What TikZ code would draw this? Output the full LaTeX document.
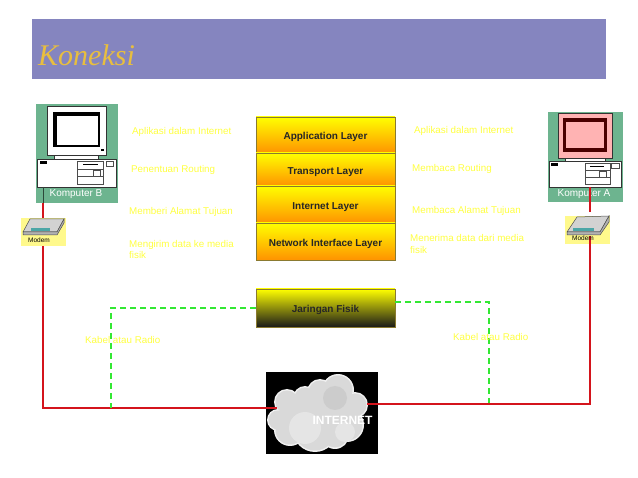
\documentclass[tikz,border=0pt]{standalone}
\usepackage{fontspec}
\setmainfont{Liberation Sans}
\newfontfamily\titlefont{Liberation Serif}
\usepackage{xcolor}
\usetikzlibrary{positioning}

\definecolor{bandcolor}{HTML}{8585BF}
\definecolor{titlecolor}{HTML}{E8BE3F}
\definecolor{pccolor}{HTML}{6DB48F}
\definecolor{notecolor}{HTML}{FFFF40}
\definecolor{edgecolor}{HTML}{8A7A30}
\definecolor{cablecolor}{HTML}{D4141C}
\definecolor{dashcolor}{HTML}{33E833}
\definecolor{pinkcolor}{HTML}{FFB3B3}
\definecolor{darkred}{HTML}{4A0000}

\begin{document}
\begin{tikzpicture}
        [x=1pt,y=-1pt,
        layer/.style={rectangle,draw=edgecolor,semithick,minimum width=139pt,inner sep=0pt,top color=yellow,bottom color=orange!85!yellow,font=\fontsize{10}{12}\selectfont\bfseries,text=black!85,text centered,text height=10pt,text depth=0pt},
        physical/.style={layer,top color=yellow,bottom color=black!90},
        note/.style={anchor=west,inner sep=0pt,align=left,text=notecolor,font=\fontsize{9.8}{11.5}\selectfont},
        pclabel/.style={inner sep=0pt,text=white,font=\fontsize{10}{12}\selectfont},
        pcbox/.style={rectangle,fill=pccolor,inner sep=0pt},
        modembox/.style={rectangle,fill=yellow!45,inner sep=0pt,minimum width=45pt,minimum height=28pt},
        modemlabel/.style={inner sep=0pt,font=\fontsize{6.5}{8}\selectfont},
        part/.style={draw=black!80,fill=white,line width=0.7pt},
        cable/.style={-,draw=cablecolor,line width=2.9pt},
        link/.style={-,draw=dashcolor,line width=1.5pt,dash pattern=on 6pt off 4pt}]

\useasboundingbox (0,0) rectangle (638,478);

% header
\node[rectangle,fill=bandcolor,minimum width=574pt,minimum height=60pt,inner sep=0pt] at (319,49) (band) {};
\node[anchor=west,inner sep=0pt,text=titlecolor,font=\titlefont\itshape\fontsize{30}{34}\selectfont] at (38,55) (title) {Koneksi};

% computer B
\node[pcbox,minimum width=82pt,minimum height=99pt] at (77,153.5) (pc_b) {};
\draw[part] (47,106) rectangle (106,155);
\draw[fill=black,draw=none] (53,112) rectangle (100,147);
\draw[fill=white,draw=none] (57,116) rectangle (98,145);
\fill[black] (101,149) rectangle (104,151);
\draw[part] (54,155) rectangle (98,159);
\node[part,rectangle,minimum width=79pt,minimum height=28pt,inner sep=0pt] at (76.5,173) (case_b) {};
\fill[black] (40,161) rectangle (47,164);
\draw[black!70,fill=white,line width=0.4pt] (77,161) rectangle (103,184) (77,169) -- (103,169) (77,176) -- (103,176) (93,170) rectangle (100,176) (106,161) rectangle (113,166);
\draw[black,line width=1pt] (83,165) -- (98,165);
\node[pclabel] at (76,194.5) (label_b) {Komputer B};

% computer A
\node[pcbox,minimum width=75pt,minimum height=90pt] at (585.5,157) (pc_a) {};
\draw[part,fill=pinkcolor] (558,113) rectangle (612,158);
\draw[fill=darkred,draw=none] (563,118) rectangle (607,152);
\draw[fill=pinkcolor,draw=none] (566,122) rectangle (604,148);
\draw[part] (565,158) rectangle (605,161);
\node[part,rectangle,minimum width=72pt,minimum height=26pt,inner sep=0pt] at (585,174) (case_a) {};
\fill[black] (551,163) rectangle (558,166);
\draw[black!70,fill=white,line width=0.4pt] (585,163) rectangle (610,184) (585,170) -- (610,170) (585,177) -- (610,177) (599,171) rectangle (606,177) (611,163) rectangle (619,168);
\draw[black,line width=1pt] (590,167) -- (604,167);
\node[pclabel] at (584,194.5) (label_a) {Komputer A};

% cloud
\node[rectangle,fill=black,minimum width=112pt,minimum height=82pt,inner sep=0pt] at (322,413) (inet) {};
\foreach \cx/\cy/\rad in {278/420/11,287/402/13,305/398/12,320/392/13,338/390/16,355/405/13,347/425/17,315/430/22,290/430/16,335/435/14,300/415/20,330/410/25}
    \fill[gray!12] (\cx,\cy) circle (\rad pt);
\foreach \cx/\cy/\rad in {278/420/9.5,287/402/11.5,305/398/10.5,320/392/11.5,338/390/14.5,355/405/11.5,347/425/15.5,315/430/20.5,290/430/14.5,335/435/12.5,300/415/18.5,330/410/23.5}
    \fill[gray!30] (\cx,\cy) circle (\rad pt);
\fill[gray!20] (305,428) circle (16pt) (345,432) circle (10pt);
\fill[gray!40] (335,398) circle (12pt);
\node[inner sep=0pt,text=white,font=\fontsize{12}{14}\selectfont\bfseries] at (342.5,420) (inet_label) {INTERNET};

% line ends
\coordinate (out_b) at (43,187);
\coordinate (box_b) at (43,203);
\coordinate (in_b) at (277,408);
\coordinate (out_a) at (590,187);
\coordinate (stop_a) at (590,212);
\coordinate (low_a) at (590,236);
\coordinate (in_a) at (367,404);
\coordinate (drop_b) at (111,408);
\coordinate (side_a) at (395,302);
\coordinate (drop_a) at (489,403);

% layers
\node[layer,minimum height=36pt] at (325.5,135) (application) {Application Layer};
\node[layer,minimum height=33pt] at (325.5,169.5) (transport) {Transport Layer};
\node[layer,minimum height=37pt] at (325.5,204.5) (internet) {Internet Layer};
\node[layer,minimum height=37pt] at (325.5,241.5) (network) {Network Interface Layer};
\node[physical,minimum height=38pt] at (325.5,308) (fisik) {Jaringan Fisik};

% notes
\node[note] at (132,131.5) (app_b) {Aplikasi dalam Internet};
\node[note] at (131,169.5) (route_b) {Penentuan Routing};
\node[note] at (129,211.5) (addr_b) {Memberi Alamat Tujuan};
\node[note] at (129,249.5) (send_b) {Mengirim data ke media\\fisik};
\node[note] at (414,131) (app_a) {Aplikasi dalam Internet};
\node[note] at (412,168.5) (route_a) {Membaca Routing};
\node[note] at (412,210.5) (addr_a) {Membaca Alamat Tujuan};
\node[note] at (410,244) (recv_a) {Menerima data dari media\\fisik};

%arrows
\draw[draw=black!60!pccolor,line width=1pt] (out_b) -- (box_b);
\draw[cable] (box_b) |- (in_b);
\draw[link] (fisik.west) -| (drop_b);
\draw[link] (side_a) -| (drop_a);
\draw[cable] (out_a) -- (stop_a);

\node[note] at (85,339.5) (kabel_b) {Kabel atau Radio};
\node[note] at (453,336.5) (kabel_a) {Kabel atau Radio};

% modem B
\node[modembox] at (43.5,232) (modem_b) {};
\draw[fill=gray!35,draw=black!70,line width=0.5pt] (23,232) -- (30,219) -- (64,219) -- (57,232) -- cycle;
\draw[fill=gray!60,draw=black!70,line width=0.5pt] (23,232) -- (57,232) -- (64,219) -- (64,223) -- (57,235) -- (23,235) -- cycle;
\fill[teal!70] (31,228) rectangle (50,231);
\node[modemlabel] at (39,240.5) (modemtext_b) {Modem};

% modem A
\node[modembox] at (587.5,230) (modem_a) {};
\draw[cable] (low_a) |- (in_a);
\draw[fill=gray!35,draw=black!70,line width=0.5pt] (567,232) -- (577,217) -- (609,216) -- (600,232) -- cycle;
\draw[fill=gray!60,draw=black!70,line width=0.5pt] (567,232) -- (600,232) -- (609,216) -- (609,222) -- (600,235) -- (567,235) -- cycle;
\fill[teal!70] (573,228) rectangle (594,231);
\node[modemlabel] at (583,238.5) (modemtext_a) {Modem};

\end{tikzpicture}
\end{document}
